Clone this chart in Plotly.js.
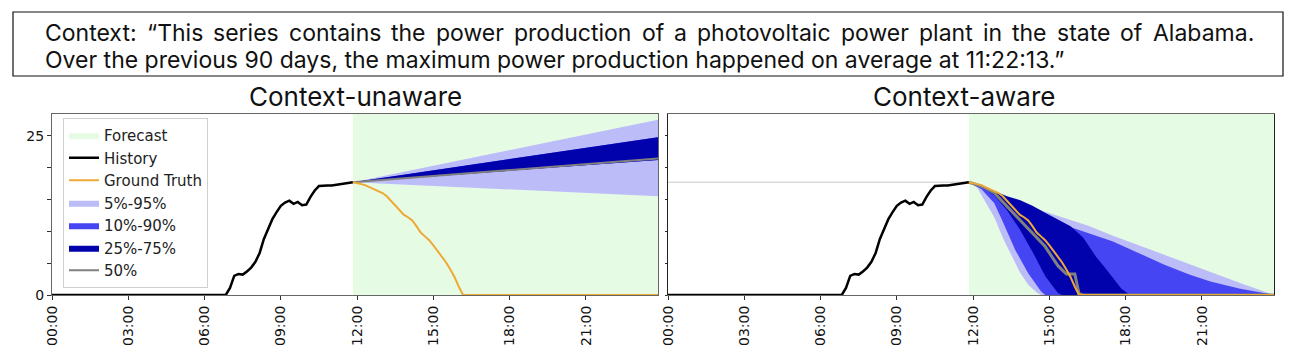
<!DOCTYPE html>
<html><head><meta charset="utf-8">
<script src="https://cdn.plot.ly/plotly-3.0.1.min.js"></script>
<style>html,body{margin:0;padding:0;background:#fff}#chart{width:1296px;height:353px}</style>
</head><body><div id="chart"></div><script>
// ---------- DATA ----------
const tickTimes = ["00:00","03:00","06:00","09:00","12:00","15:00","18:00","21:00"];
const contextLine1 = "Context: \u201cThis series contains the power production of a photovoltaic power plant in the state of Alabama.";
const contextLine2 = "Over the previous 90 days, the maximum power production happened on average at 11:22:13.\u201d";
const panelTitles = ["Context-unaware", "Context-aware"];

// history: 10-minute samples from 00:00 to 11:50
const historyStart = "00:00";
const historyValues = [
  0,0,0,0,0,0,0,0,0,0, 0,0,0,0,0,0,0,0,0,0, 0,0,0,0,0,0,0,0,0,0, 0,0,0,0,0,0,0,0,0,0, 0,
  0.0,1.1,3.0,3.3,3.2,3.7,4.3,5.2,6.6,8.8,10.5,11.9,13.0,14.0,14.5,14.8,14.3,14.6,14.1,14.2,
  15.4,16.4,17.1,17.2,17.2,17.2,17.3,17.5,17.6,17.7,17.7
];
// ground truth: 10-minute samples from 11:50 to 23:50
const truthStart = "11:50";
const truthValues = [
  17.7,17.6,17.4,17.2,16.9,16.6,16.2,16.0,15.5,14.8,14.0,13.3,12.6,12.2,11.7,10.8,9.8,9.2,8.6,7.8,
  6.9,6.0,5.1,4.0,2.8,1.3,0.0,
  0,0,0,0,0,0,0,0,0,0, 0,0,0,0,0,0,0,0,0,0, 0,0,0,0,0,0,0,0,0,0, 0,0,0,0,0,0,0,0,0,0, 0,0,0,0,0,0
];
const forecastEnd = "23:50";

// context-unaware quantile forecast
const unawareTimes = ["11:50","23:50"];
const unawareQ05 = [17.7, 15.5];
const unawareQ10 = [17.7, 21.2];
const unawareQ25 = [17.7, 21.2];
const unawareQ50 = [17.7, 21.4];
const unawareQ75 = [17.7, 24.75];
const unawareQ90 = [17.7, 24.75];
const unawareQ95 = [17.7, 27.5];

// context-aware quantile forecast
const awareQ95T = ["11:50","12:20","12:50","13:20","13:50","14:30","15:30","16:30","17:30","18:30","19:30","20:30","21:30","22:30","23:50"];
const awareQ95  = [17.7,17.3,16.3,15.3,14.5,13.5,12.2,10.9,9.3,7.8,6.3,4.8,3.3,1.9,0];
const awareQ90T = ["11:50","12:20","12:50","13:20","13:50","14:30","15:30","16:30","17:30","18:30","19:30","20:30","21:20","22:30","23:50"];
const awareQ90  = [17.7,17.1,16.0,14.8,13.9,12.6,11.1,9.7,8.4,6.6,4.8,3.2,2.1,1.0,0];
const awareQ75T = ["11:50","12:20","12:50","13:20","13:50","14:20","14:50","15:20","15:50","16:20","16:50","17:10","17:30","17:50","18:10"];
const awareQ75  = [17.7,17.2,16.3,15.5,14.9,14.0,12.9,11.9,10.8,9.0,6.0,4.4,2.6,1.0,0];
const awareQ50T = ["11:50","12:20","12:50","13:20","13:50","14:20","14:50","15:20","15:40","16:00","16:10","16:20","23:50"];
const awareQ50  = [17.7,17.1,16.0,13.9,11.8,9.6,7.6,4.6,3.3,3.3,0.2,0,0];
const awareQ25T = ["11:50","12:20","12:50","13:20","13:50","14:20","14:50","15:20","15:30"];
const awareQ25  = [17.7,17.0,15.6,13.3,10.3,6.8,3.0,0.3,0];
const awareQ10T = ["11:50","12:20","12:50","13:10","13:40","14:10","14:40","14:50"];
const awareQ10  = [17.7,16.6,14.4,11.5,7.0,3.4,0.6,0];
const awareQ05T = ["11:50","12:10","12:30","12:50","13:10","13:30","13:50","14:10","14:30","14:40"];
const awareQ05  = [17.7,16.8,14.6,12.2,9.0,6.2,3.6,1.6,0.4,0];

// ---------- HELPERS ----------
const toH = s => { const [h,m] = s.split(":").map(Number); return h + m/60; };
const seqTimes = (start, n) => Array.from({length:n}, (_,i) => toH(start) + i*10/60);
const band = (tU, yU, tL, yL) => ({
  x: tU.map(toH).concat(tL.map(toH).reverse()),
  y: yU.concat(yL.slice().reverse())
});

const C = {
  green: "#e6fbe4", light: "#bcbcf8", mid: "#4545f4", dark: "#0202ad",
  hist: "#000000", truth: "#eea935", median: "#808080"
};
const W = 1296, H = 353;
const px = v => v / W, py = v => 1 - v / H;

const histX = seqTimes(historyStart, historyValues.length);
const truthX = seqTimes(truthStart, truthValues.length);
const fStart = toH(truthStart), fEnd = toH(forecastEnd);

function panel(xa, ya, q, showLeg, medW) {
  const tr = [];
  const mk = (b, color, name, rank) => ({
    type: "scatter", mode: "lines", x: b.x, y: b.y, xaxis: xa, yaxis: ya,
    fill: "toself", fillcolor: color, line: {width: 0, color: color},
    name: name, showlegend: showLeg, legendgroup: name, legendrank: rank, hoverinfo: "skip"
  });
  tr.push(mk(band(q.t95, q.q95, q.t05, q.q05), C.light, "5%-95%", 4));
  tr.push(mk(band(q.t90, q.q90, q.t10, q.q10), C.mid, "10%-90%", 5));
  tr.push(mk(band(q.t75, q.q75, q.t25, q.q25), C.dark, "25%-75%", 6));
  tr.push({type:"scatter", mode:"lines", x:q.t50.map(toH), y:q.q50, xaxis:xa, yaxis:ya,
    line:{color:C.median, width:medW}, name:"50%", showlegend:showLeg, legendgroup:"50%", legendrank:7});
  tr.push({type:"scatter", mode:"lines", x:histX, y:historyValues, xaxis:xa, yaxis:ya,
    line:{color:C.hist, width:2.5}, name:"History", showlegend:showLeg, legendgroup:"History", legendrank:2});
  tr.push({type:"scatter", mode:"lines", x:truthX, y:truthValues, xaxis:xa, yaxis:ya,
    line:{color:C.truth, width:2}, name:"Ground Truth", showlegend:showLeg, legendgroup:"Ground Truth", legendrank:3});
  return tr;
}

const traces = [
  {type:"scatter", mode:"lines", x:[null], y:[null], fill:"toself", fillcolor:C.green,
   line:{width:0, color:C.green}, name:"Forecast", legendgroup:"Forecast", legendrank:1, showlegend:true},
  ...panel("x","y",{t95:unawareTimes,q95:unawareQ95,t05:unawareTimes,q05:unawareQ05,
    t90:unawareTimes,q90:unawareQ90,t10:unawareTimes,q10:unawareQ10,
    t75:unawareTimes,q75:unawareQ75,t25:unawareTimes,q25:unawareQ25,
    t50:unawareTimes,q50:unawareQ50}, true, 2),
  ...panel("x2","y2",{t95:awareQ95T,q95:awareQ95,t05:awareQ05T,q05:awareQ05,
    t90:awareQ90T,q90:awareQ90,t10:awareQ10T,q10:awareQ10,
    t75:awareQ75T,q75:awareQ75,t25:awareQ25T,q25:awareQ25,
    t50:awareQ50T,q50:awareQ50}, false, 3)
];

// justified first context line: one annotation per word
const ctxFontSize = 23, ctxLeft = 44, ctxRight = 1253;
const line1Y = 32.5, line2Y = 60.5;
const cv = document.createElement("canvas").getContext("2d");
cv.font = ctxFontSize + "px Inter";
const words = contextLine1.split(" ");
const wWidths = words.map(w => cv.measureText(w).width);
const totalW = wWidths.reduce((a,b)=>a+b,0);
const gap = (ctxRight - ctxLeft - totalW) / (words.length - 1);
const wordAnns = [];
let cx = ctxLeft;
words.forEach((w,i) => {
  wordAnns.push({xref:"paper", yref:"paper", x:px(cx), y:py(line1Y), xanchor:"left", yanchor:"middle",
    showarrow:false, borderpad:0, text:w, font:{family:"Inter", size:ctxFontSize, color:"#111"}});
  cx += wWidths[i] + gap;
});

const yDom = [py(295), py(114)];
const xAxisBase = {
  range:[0, fEnd], tickvals: tickTimes.map(toH), ticktext: tickTimes, tickangle:-90,
  ticks:"outside", ticklen:4, tickcolor:"#333", showgrid:false, zeroline:false,
  showline:true, mirror:true, linecolor:"#666", linewidth:1,
  tickfont:{family:"DejaVu Sans", size:14, color:"#111"}
};
const yAxisBase = {
  range:[0, 28.4], tickvals:[0,5,10,15,20,25], ticks:"outside", ticklen:4, tickcolor:"#333",
  showgrid:false, zeroline:false, showline:true, mirror:true, linecolor:"#666", linewidth:1,
  domain:yDom, tickfont:{family:"DejaVu Sans", size:14, color:"#111"}
};

const layout = {
  width:W, height:H, margin:{l:0,r:0,t:0,b:0}, paper_bgcolor:"#fff", plot_bgcolor:"#fff",
  font:{family:"DejaVu Sans", color:"#111"},
  showlegend:true,
  xaxis:Object.assign({}, xAxisBase, {domain:[px(52), px(658)], anchor:"y"}),
  yaxis:Object.assign({}, yAxisBase, {anchor:"x", ticktext:["0","","","","","25"]}),
  xaxis2:Object.assign({}, xAxisBase, {domain:[px(668), px(1274)], anchor:"y2"}),
  yaxis2:Object.assign({}, yAxisBase, {anchor:"x2", ticktext:["","","","","",""], linecolor:"#222", ticklen:2}),
  legend:{x:px(63), y:py(118), xanchor:"left", yanchor:"top", bgcolor:"rgba(255,255,255,0.9)",
    bordercolor:"#d0d0d0", borderwidth:1, font:{family:"DejaVu Sans", size:15, color:"#222"},
    tracegroupgap:1, itemwidth:30, traceorder:"normal"},
  shapes:[
    {type:"rect", xref:"x", yref:"y domain", x0:fStart, x1:fEnd, y0:0, y1:1, fillcolor:C.green, line:{width:0}, layer:"below"},
    {type:"rect", xref:"x2", yref:"y2 domain", x0:fStart, x1:fEnd, y0:0, y1:1, fillcolor:C.green, line:{width:0}, layer:"below"},
    {type:"line", xref:"x2", yref:"y2", x0:0, x1:fStart, y0:historyValues[historyValues.length-1], y1:historyValues[historyValues.length-1], line:{color:"#c8c8c8", width:1}, layer:"below"},
    {type:"rect", xref:"paper", yref:"paper", x0:px(13), x1:px(1283), y0:py(76), y1:py(12), line:{color:"#111", width:1.2}, fillcolor:"rgba(0,0,0,0)"}
  ],
  annotations:[
    ...wordAnns,
    {xref:"paper", yref:"paper", x:px(44), y:py(line2Y), xanchor:"left", yanchor:"middle", showarrow:false, borderpad:0,
     text:contextLine2, font:{family:"Inter", size:ctxFontSize, color:"#111"}},
    {xref:"paper", yref:"paper", x:px(355), y:py(96), xanchor:"center", yanchor:"middle", showarrow:false,
     text:panelTitles[0], font:{family:"Inter", size:26, color:"#111"}},
    {xref:"paper", yref:"paper", x:px(964), y:py(96), xanchor:"center", yanchor:"middle", showarrow:false,
     text:panelTitles[1], font:{family:"Inter", size:26, color:"#111"}}
  ]
};

Plotly.newPlot("chart", traces, layout, {staticPlot:true, displayModeBar:false});
</script></body></html>
